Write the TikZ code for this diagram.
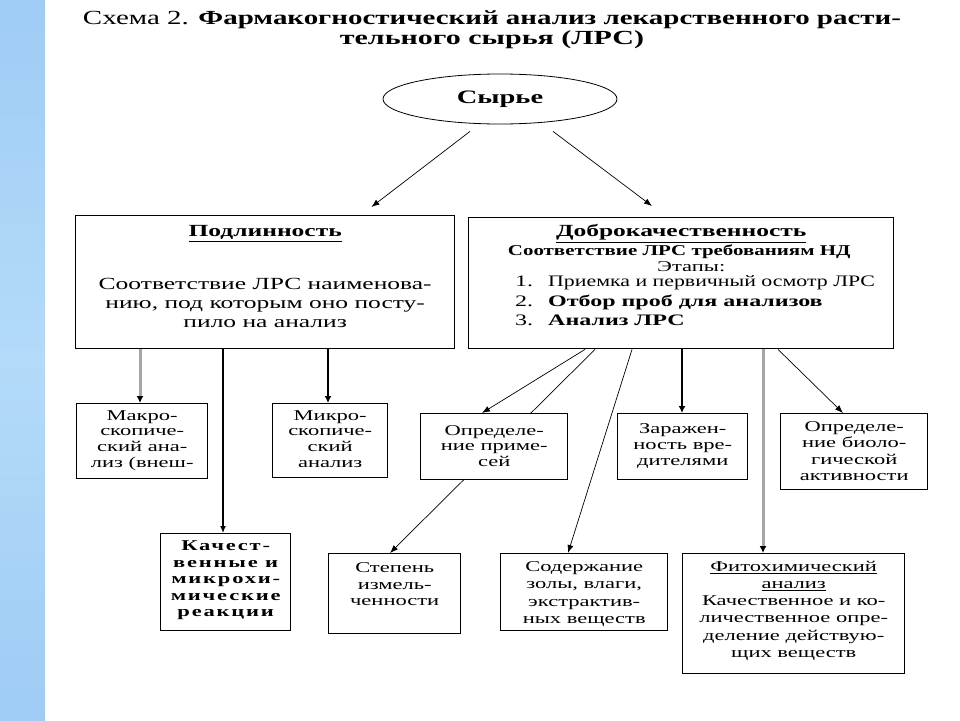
\documentclass[tikz,border=0pt]{standalone}
\usepackage{fontspec}
\setmainfont{Liberation Serif}[FakeStretch=1.5]
\usetikzlibrary{arrows.meta,calc,backgrounds,shapes.geometric}
\newcommand\fsz[2]{\fontsize{#1pt}{#2pt}\selectfont}
\definecolor{stripetop}{HTML}{9FCCF5}
\definecolor{stripemid}{HTML}{B3DAF9}
\definecolor{linegray}{HTML}{A6A6A6}
\tikzset{
  bx/.style={draw=black, line width=1.4pt, fill=white, inner sep=0pt, anchor=north west},
  txt/.style={anchor=north, inner sep=0pt, align=center},
  arr/.style={draw=black, line width=0.7pt, -{Latex[length=8pt,width=6pt]}},
  midarr/.style={draw=black, line width=1.3pt, -{Latex[length=7pt,width=6pt]}},
  thickarr/.style={draw=black, line width=2.3pt, -{Latex[length=7pt,width=7pt]}},
  grayarr/.style={draw=linegray, line width=3pt, -{Latex[length=7pt,width=7pt,color=black]}},
}
\begin{document}
\begin{tikzpicture}[x=1pt,y=-1pt]
\path[use as bounding box] (0,0) rectangle (960,720);
\shade[top color=stripetop, bottom color=stripetop, middle color=stripemid] (0,0) rectangle (45,720);

% title
\node[txt, font=\fsz{20}{20}\bfseries] (title) at (492,10)
  {\strut\scalebox{0.965}[1]{{\mdseries Схема 2.} Фармакогностический анализ лекарственного расти-}\\тельного сырья (ЛРС)};

% root
\node[ellipse, draw=black, line width=0.8pt, minimum width=234pt, minimum height=50pt, inner sep=0pt,
      font=\fsz{19}{20}\bfseries] (syr) at (500,99) {Сырье};

% level 1
\node[bx, minimum width=379pt, minimum height=133pt] (pod) at (75,215) {};
\node[txt, font=\fsz{17}{18}\bfseries] (podt) at ($(pod.north)+(0,9)$) {\strut\underline{Подлинность}};
\node[txt, font=\fsz{17}{19}] (podb) at ($(pod.north)+(0,61)$)
  {\strut Соответствие ЛРС наименова-\\нию, под которым оно посту-\\пило на анализ};

\node[bx, minimum width=425pt, minimum height=131pt] (dob) at (468,217) {};
\node[txt, font=\fsz{17}{18}\bfseries] (dobt) at ($(dob.north)+(0,7)$) {\strut\underline{Доброкачественность}};
\node[txt, font=\fsz{15}{16}] (dobs) at ($(dob.north)+(-2,27)$)
  {\strut\scalebox{0.93}[1]{\textbf{Соответствие ЛРС требованиям НД}}\\\hspace*{24pt}Этапы:};
\node[anchor=north west, inner sep=0pt, align=left, font=\fsz{16}{19.5}] (dobl) at (515,273)
  {\strut\makebox[33pt][l]{1.}\scalebox{0.91}[1]{Приемка и первичный осмотр ЛРС}\\
   \makebox[33pt][l]{2.}\textbf{Отбор проб для анализов}\\
   \makebox[33pt][l]{3.}\textbf{Анализ ЛРС}};

% level 2, left
\node[bx, minimum width=131pt, minimum height=75pt] (makro) at (76,403) {};
\node[txt, font=\fsz{15}{15.7}] (makrot) at ($(makro.north)+(0,6)$)
  {\strut Макро-\\скопиче-\\ский ана-\\лиз (внеш-};
\node[bx, minimum width=115pt, minimum height=74pt] (mikro) at (272,403) {};
\node[txt, font=\fsz{15}{15.7}] (mikrot) at ($(mikro.north)+(0,6)$)
  {\strut Микро-\\скопиче-\\ский\\анализ};
\node[bx, minimum width=130pt, minimum height=97pt] (kach) at (160,533) {};
\node[txt, font=\fsz{15}{16.5}\bfseries\addfontfeature{LetterSpace=12}] (kacht) at ($(kach.north)+(0,6)$)
  {\strut Качест-\\венные и\\микрохи-\\мические\\реакции};

% level 2, right
\node[bx, minimum width=147pt, minimum height=66pt] (prim) at (420,413) {};
\node[txt, font=\fsz{15}{15.5}] (primt) at ($(prim.north)+(0,11)$)
  {\strut Определе-\\ние приме-\\сей};
\node[bx, minimum width=130pt, minimum height=66pt] (zar) at (617,413) {};
\node[txt, font=\fsz{15}{16}] (zart) at ($(zar.north)+(0,9)$)
  {\strut Заражен-\\ность вре-\\дителями};
\node[bx, minimum width=147pt, minimum height=76pt] (bio) at (780,413) {};
\node[txt, font=\fsz{15}{16.3}] (biot) at ($(bio.north)+(0,7)$)
  {\strut Определе-\\ние биоло-\\гической\\активности};

% level 3
\node[bx, minimum width=132pt, minimum height=80pt] (step) at (328,553) {};
\node[txt, font=\fsz{15}{16.5}] (stept) at ($(step.north)+(0,8)$)
  {\strut Степень\\измель-\\ченности};
\node[bx, minimum width=167pt, minimum height=77pt] (sod) at (500,553) {};
\node[txt, font=\fsz{15}{17.5}] (sodt) at ($(sod.north)+(0,6)$)
  {\strut Содержание\\золы, влаги,\\экстрактив-\\ных веществ};
\node[bx, minimum width=222pt, minimum height=120pt] (fito) at (682,553) {};
\node[txt, font=\fsz{15}{17.2}] (fitot) at ($(fito.north)+(0,6)$)
  {\strut\underline{Фитохимический}\\\underline{анализ}\\Качественное и ко-\\личественное опре-\\деление действую-\\щих веществ};

% connectors
\draw[arr] ($(syr.south)+(-30,7)$) -- ($(pod.north east)+(-84,-8)$);
\draw[arr] ($(syr.south)+(53,7)$) -- ($(dob.north west)+(184,-11)$);

\draw[grayarr] ($(pod.south west)+(65,0)$) coordinate (p1) -- (p1 |- makro.north);
\draw[midarr] ($(pod.south west)+(148,0)$) coordinate (p2) -- (p2 |- kach.north);
\draw[thickarr] ($(pod.south west)+(253,0)$) coordinate (p3) -- (p3 |- mikro.north);

\draw[arr] ($(dob.south west)+(117,0)$) -- ($(prim.north west)+(62,0)$);
\begin{scope}[on background layer]
\draw[arr] ($(dob.south west)+(127,0)$) -- ($(step.north west)+(62,0)$);
\end{scope}
\draw[arr] ($(dob.south west)+(164,0)$) -- ($(sod.north west)+(68,0)$);
\draw[thickarr] ($(dob.south west)+(214,0)$) coordinate (q1) -- (q1 |- zar.north);
\draw[grayarr] ($(dob.south west)+(295,0)$) coordinate (q2) -- (q2 |- fito.north);
\draw[arr] ($(dob.south west)+(310,0)$) -- ($(bio.north west)+(63,0)$);
\end{tikzpicture}
\end{document}
